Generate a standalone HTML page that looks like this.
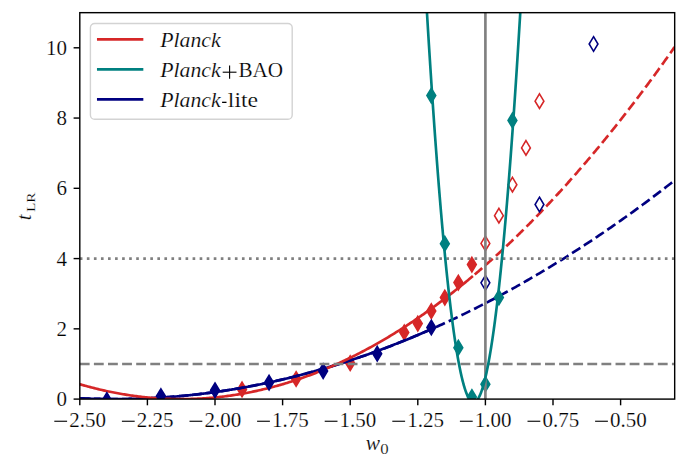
<!DOCTYPE html>
<html><head><meta charset="utf-8"><style>
html,body{margin:0;padding:0;background:#fff;}
svg{display:block;}
text{font-family:"Liberation Serif",serif;fill:#000;stroke:#fff;stroke-width:0.2px;}
.it{font-style:italic;}
.rm{font-style:normal;}
</style></head><body>
<svg width="682" height="460" viewBox="0 0 682 460">
<rect x="0" y="0" width="682" height="460" fill="#ffffff"/>
<defs><clipPath id="ax"><rect x="79.80" y="12.67" width="594.88" height="386.43"/></clipPath></defs>
<g clip-path="url(#ax)">
<path d="M242.04,382.10 L246.44,389.40 L242.04,396.70 L237.64,389.40 Z" fill="#d62728" stroke="#d62728" stroke-width="1.6"/>
<path d="M296.12,371.70 L300.52,379.00 L296.12,386.30 L291.72,379.00 Z" fill="#d62728" stroke="#d62728" stroke-width="1.6"/>
<path d="M350.20,355.90 L354.60,363.20 L350.20,370.50 L345.80,363.20 Z" fill="#d62728" stroke="#d62728" stroke-width="1.6"/>
<path d="M404.28,325.10 L408.68,332.40 L404.28,339.70 L399.88,332.40 Z" fill="#d62728" stroke="#d62728" stroke-width="1.6"/>
<path d="M417.80,316.30 L422.20,323.60 L417.80,330.90 L413.40,323.60 Z" fill="#d62728" stroke="#d62728" stroke-width="1.6"/>
<path d="M431.32,303.80 L435.72,311.10 L431.32,318.40 L426.92,311.10 Z" fill="#d62728" stroke="#d62728" stroke-width="1.6"/>
<path d="M444.84,290.30 L449.24,297.60 L444.84,304.90 L440.44,297.60 Z" fill="#d62728" stroke="#d62728" stroke-width="1.6"/>
<path d="M458.36,275.30 L462.76,282.60 L458.36,289.90 L453.96,282.60 Z" fill="#d62728" stroke="#d62728" stroke-width="1.6"/>
<path d="M471.88,257.30 L476.28,264.60 L471.88,271.90 L467.48,264.60 Z" fill="#d62728" stroke="#d62728" stroke-width="1.6"/>
<path d="M485.40,236.10 L489.80,243.40 L485.40,250.70 L481.00,243.40 Z" fill="none" stroke="#d62728" stroke-width="1.6"/>
<path d="M498.92,208.40 L503.32,215.70 L498.92,223.00 L494.52,215.70 Z" fill="none" stroke="#d62728" stroke-width="1.6"/>
<path d="M512.44,177.40 L516.84,184.70 L512.44,192.00 L508.04,184.70 Z" fill="none" stroke="#d62728" stroke-width="1.6"/>
<path d="M525.96,140.60 L530.36,147.90 L525.96,155.20 L521.56,147.90 Z" fill="none" stroke="#d62728" stroke-width="1.6"/>
<path d="M539.48,93.90 L543.88,101.20 L539.48,108.50 L535.08,101.20 Z" fill="none" stroke="#d62728" stroke-width="1.6"/>
<path d="M79.80,398.25 L81.79,398.35 L83.78,398.43 L85.77,398.52 L87.76,398.59 L89.75,398.67 L91.74,398.73 L93.73,398.79 L95.72,398.85 L97.71,398.90 L99.70,398.94 L101.69,398.98 L103.67,399.02 L105.66,399.04 L107.65,399.07 L109.64,399.08 L111.63,399.09 L113.62,399.10 L115.61,399.10 L117.60,399.09 L119.59,399.08 L121.58,399.07 L123.57,399.04 L125.56,399.02 L127.55,398.98 L129.54,398.95 L131.53,398.90 L133.52,398.85 L135.51,398.80 L137.50,398.74 L139.49,398.67 L141.48,398.60 L143.47,398.52 L145.46,398.44 L147.45,398.35 L149.43,398.26 L151.42,398.16 L153.41,398.05 L155.40,397.94 L157.39,397.83 L159.38,397.71 L161.37,397.58 L163.36,397.45 L165.35,397.31 L167.34,397.17 L169.33,397.02 L171.32,396.86 L173.31,396.70 L175.30,396.54 L177.29,396.37 L179.28,396.19 L181.27,396.01 L183.26,395.82 L185.25,395.63 L187.24,395.43 L189.23,395.22 L191.22,395.01 L193.21,394.80 L195.19,394.58 L197.18,394.35 L199.17,394.12 L201.16,393.88 L203.15,393.64 L205.14,393.39 L207.13,393.14 L209.12,392.88 L211.11,392.61 L213.10,392.34 L215.09,392.07 L217.08,391.79 L219.07,391.50 L221.06,391.21 L223.05,390.91 L225.04,390.61 L227.03,390.30 L229.02,389.98 L231.01,389.66 L233.00,389.34 L234.99,389.01 L236.98,388.67 L238.97,388.33 L240.95,387.98 L242.94,387.63 L244.93,387.27 L246.92,386.90 L248.91,386.53 L250.90,386.16 L252.89,385.78 L254.88,385.39 L256.87,385.00 L258.86,384.60 L260.85,384.20 L262.84,383.79 L264.83,383.38 L266.82,382.96 L268.81,382.53 L270.80,382.10 L272.79,381.67 L274.78,381.22 L276.77,380.78 L278.76,380.32 L280.75,379.87 L282.74,379.40 L284.73,378.93 L286.71,378.46 L288.70,377.98 L290.69,377.49 L292.68,377.00 L294.67,376.50 L296.66,376.00 L298.65,375.49 L300.64,374.98 L302.63,374.46 L304.62,373.94 L306.61,373.41 L308.60,372.87 L310.59,372.33 L312.58,371.79 L314.57,371.23 L316.56,370.68 L318.55,370.11 L320.54,369.54 L322.53,368.97 L324.52,368.39 L326.51,367.81 L328.50,367.22 L330.49,366.62 L332.47,366.02 L334.46,365.41 L336.45,364.80 L338.44,364.18 L340.43,363.56 L342.42,362.93 L344.41,362.29 L346.40,361.65 L348.39,361.01 L350.38,360.35 L352.37,359.70 L354.36,359.03 L356.35,358.37 L358.34,357.69 L360.33,357.01 L362.32,356.33 L364.31,355.64 L366.30,354.94 L368.29,354.24 L370.28,353.54 L372.27,352.82 L374.26,352.11 L376.25,351.38 L378.23,350.66 L380.22,349.92 L382.21,349.18 L384.20,348.44 L386.19,347.69 L388.18,346.93 L390.17,346.17 L392.16,345.40 L394.15,344.63 L396.14,343.85 L398.13,343.06 L400.12,342.28 L402.11,341.48 L404.10,340.68 L406.09,339.87 L408.08,339.06 L410.07,338.25 L412.06,337.42 L414.05,336.59 L416.04,335.76 L418.03,334.92 L420.02,334.08 L422.01,333.23 L423.99,332.37 L425.98,331.51 L427.97,330.64 L429.96,329.77 L431.95,328.89 L433.94,328.01 L435.93,327.12 L437.92,326.23 L439.91,325.33 L441.90,324.42 L443.89,323.51 L445.88,322.60 L447.87,321.67 L449.86,320.75 L451.85,319.81 L453.84,318.87 L455.83,317.93 L457.82,316.98 L459.81,316.03 L461.80,315.07 L463.79,314.10 L465.78,313.13 L467.77,312.15 L469.75,311.17 L471.74,310.18 L473.73,309.19 L475.72,308.19 L477.71,307.18 L479.70,306.17 L481.69,305.16 L483.68,304.13 L485.67,303.11 L487.66,302.08 L489.65,301.04 L491.64,299.99 L493.63,298.95 L495.62,297.89 L497.61,296.83 L499.60,295.77 L501.59,294.69 L503.58,293.62 L505.57,292.54 L507.56,291.45 L509.55,290.36 L511.54,289.26 L513.53,288.15 L515.51,287.04 L517.50,285.93 L519.49,284.81 L521.48,283.68 L523.47,282.55 L525.46,281.41 L527.45,280.27 L529.44,279.12 L531.43,277.97 L533.42,276.81 L535.41,275.64 L537.40,274.47 L539.39,273.30 L541.38,272.12 L543.37,270.93 L545.36,269.74 L547.35,268.54 L549.34,267.33 L551.33,266.13 L553.32,264.91 L555.31,263.69 L557.30,262.46 L559.29,261.23 L561.27,260.00 L563.26,258.76 L565.25,257.51 L567.24,256.25 L569.23,255.00 L571.22,253.73 L573.21,252.46 L575.20,251.19 L577.19,249.91 L579.18,248.62 L581.17,247.33 L583.16,246.03 L585.15,244.73 L587.14,243.42 L589.13,242.10 L591.12,240.78 L593.11,239.46 L595.10,238.13 L597.09,236.79 L599.08,235.45 L601.07,234.10 L603.06,232.75 L605.05,231.39 L607.03,230.03 L609.02,228.66 L611.01,227.29 L613.00,225.91 L614.99,224.52 L616.98,223.13 L618.97,221.73 L620.96,220.33 L622.95,218.92 L624.94,217.51 L626.93,216.09 L628.92,214.67 L630.91,213.24 L632.90,211.80 L634.89,210.36 L636.88,208.91 L638.87,207.46 L640.86,206.00 L642.85,204.54 L644.84,203.07 L646.83,201.60 L648.82,200.12 L650.81,198.63 L652.79,197.14 L654.78,195.65 L656.77,194.15 L658.76,192.64 L660.75,191.13 L662.74,189.61 L664.73,188.08 L666.72,186.55 L668.71,185.02 L670.70,183.48 L672.69,181.93 L674.68,180.38" fill="none" stroke="#000080" stroke-width="2.66" stroke-dasharray="9.842 4.256"/>
<path d="M79.80,398.25 L80.98,398.31 L82.15,398.36 L83.33,398.41 L84.50,398.46 L85.68,398.51 L86.85,398.56 L88.03,398.60 L89.21,398.65 L90.38,398.69 L91.56,398.73 L92.73,398.76 L93.91,398.80 L95.08,398.83 L96.26,398.86 L97.43,398.89 L98.61,398.92 L99.79,398.95 L100.96,398.97 L102.14,398.99 L103.31,399.01 L104.49,399.03 L105.66,399.04 L106.84,399.06 L108.02,399.07 L109.19,399.08 L110.37,399.09 L111.54,399.09 L112.72,399.10 L113.89,399.10 L115.07,399.10 L116.25,399.10 L117.42,399.09 L118.60,399.09 L119.77,399.08 L120.95,399.07 L122.12,399.06 L123.30,399.05 L124.47,399.03 L125.65,399.02 L126.83,399.00 L128.00,398.98 L129.18,398.95 L130.35,398.93 L131.53,398.90 L132.70,398.87 L133.88,398.84 L135.06,398.81 L136.23,398.78 L137.41,398.74 L138.58,398.70 L139.76,398.66 L140.93,398.62 L142.11,398.58 L143.29,398.53 L144.46,398.48 L145.64,398.43 L146.81,398.38 L147.99,398.33 L149.16,398.27 L150.34,398.21 L151.51,398.15 L152.69,398.09 L153.87,398.03 L155.04,397.96 L156.22,397.90 L157.39,397.83 L158.57,397.76 L159.74,397.68 L160.92,397.61 L162.10,397.53 L163.27,397.45 L164.45,397.37 L165.62,397.29 L166.80,397.21 L167.97,397.12 L169.15,397.03 L170.33,396.94 L171.50,396.85 L172.68,396.75 L173.85,396.66 L175.03,396.56 L176.20,396.46 L177.38,396.36 L178.55,396.25 L179.73,396.15 L180.91,396.04 L182.08,395.93 L183.26,395.82 L184.43,395.71 L185.61,395.59 L186.78,395.47 L187.96,395.35 L189.14,395.23 L190.31,395.11 L191.49,394.99 L192.66,394.86 L193.84,394.73 L195.01,394.60 L196.19,394.47 L197.37,394.33 L198.54,394.20 L199.72,394.06 L200.89,393.92 L202.07,393.77 L203.24,393.63 L204.42,393.48 L205.59,393.34 L206.77,393.19 L207.95,393.03 L209.12,392.88 L210.30,392.72 L211.47,392.57 L212.65,392.41 L213.82,392.24 L215.00,392.08 L216.18,391.92 L217.35,391.75 L218.53,391.58 L219.70,391.41 L220.88,391.23 L222.05,391.06 L223.23,390.88 L224.41,390.70 L225.58,390.52 L226.76,390.34 L227.93,390.15 L229.11,389.97 L230.28,389.78 L231.46,389.59 L232.63,389.40 L233.81,389.20 L234.99,389.01 L236.16,388.81 L237.34,388.61 L238.51,388.41 L239.69,388.20 L240.86,388.00 L242.04,387.79 L243.22,387.58 L244.39,387.37 L245.57,387.15 L246.74,386.94 L247.92,386.72 L249.09,386.50 L250.27,386.28 L251.45,386.05 L252.62,385.83 L253.80,385.60 L254.97,385.37 L256.15,385.14 L257.32,384.91 L258.50,384.67 L259.67,384.44 L260.85,384.20 L262.03,383.96 L263.20,383.72 L264.38,383.47 L265.55,383.22 L266.73,382.98 L267.90,382.73 L269.08,382.47 L270.26,382.22 L271.43,381.96 L272.61,381.71 L273.78,381.45 L274.96,381.18 L276.13,380.92 L277.31,380.65 L278.49,380.39 L279.66,380.12 L280.84,379.85 L282.01,379.57 L283.19,379.30 L284.36,379.02 L285.54,378.74 L286.71,378.46 L287.89,378.18 L289.07,377.89 L290.24,377.60 L291.42,377.31 L292.59,377.02 L293.77,376.73 L294.94,376.44 L296.12,376.14 L297.30,375.84 L298.47,375.54 L299.65,375.24 L300.82,374.93 L302.00,374.63 L303.17,374.32 L304.35,374.01 L305.53,373.70 L306.70,373.38 L307.88,373.07 L309.05,372.75 L310.23,372.43 L311.40,372.11 L312.58,371.79 L313.75,371.46 L314.93,371.13 L316.11,370.80 L317.28,370.47 L318.46,370.14 L319.63,369.80 L320.81,369.47 L321.98,369.13 L323.16,368.79 L324.34,368.44 L325.51,368.10 L326.69,367.75 L327.86,367.40 L329.04,367.05 L330.21,366.70 L331.39,366.35 L332.57,365.99 L333.74,365.63 L334.92,365.27 L336.09,364.91 L337.27,364.55 L338.44,364.18 L339.62,363.81 L340.79,363.44 L341.97,363.07 L343.15,362.70 L344.32,362.32 L345.50,361.94 L346.67,361.56 L347.85,361.18 L349.02,360.80 L350.20,360.41 L351.38,360.03 L352.55,359.64 L353.73,359.25 L354.90,358.85 L356.08,358.46 L357.25,358.06 L358.43,357.66 L359.61,357.26 L360.78,356.86 L361.96,356.45 L363.13,356.05 L364.31,355.64 L365.48,355.23 L366.66,354.82 L367.83,354.40 L369.01,353.99 L370.19,353.57 L371.36,353.15 L372.54,352.73 L373.71,352.30 L374.89,351.88 L376.06,351.45 L377.24,351.02 L378.42,350.59 L379.59,350.16 L380.77,349.72 L381.94,349.28 L383.12,348.84 L384.29,348.40 L385.47,347.96 L386.65,347.51 L387.82,347.07 L389.00,346.62 L390.17,346.17 L391.35,345.71 L392.52,345.26 L393.70,344.80 L394.87,344.34 L396.05,343.88 L397.23,343.42 L398.40,342.96 L399.58,342.49 L400.75,342.02 L401.93,341.55 L403.10,341.08 L404.28,340.61 L405.46,340.13 L406.63,339.65 L407.81,339.17 L408.98,338.69 L410.16,338.21 L411.33,337.72 L412.51,337.24 L413.69,336.75 L414.86,336.25 L416.04,335.76 L417.21,335.27 L418.39,334.77 L419.56,334.27 L420.74,333.77 L421.91,333.27 L423.09,332.76 L424.27,332.25 L425.44,331.75 L426.62,331.24 L427.79,330.72 L428.97,330.21 L430.14,329.69 L431.32,329.17" fill="none" stroke="#000080" stroke-width="2.66" stroke-linecap="square"/>
<path d="M79.80,384.23 L81.11,384.61 L82.42,384.99 L83.73,385.36 L85.05,385.73 L86.36,386.09 L87.67,386.45 L88.98,386.80 L90.29,387.15 L91.60,387.49 L92.91,387.83 L94.22,388.16 L95.54,388.49 L96.85,388.81 L98.16,389.13 L99.47,389.44 L100.78,389.75 L102.09,390.05 L103.40,390.35 L104.71,390.64 L106.03,390.93 L107.34,391.21 L108.65,391.49 L109.96,391.76 L111.27,392.03 L112.58,392.29 L113.89,392.55 L115.21,392.80 L116.52,393.05 L117.83,393.29 L119.14,393.53 L120.45,393.76 L121.76,393.99 L123.07,394.21 L124.38,394.43 L125.70,394.64 L127.01,394.85 L128.32,395.06 L129.63,395.25 L130.94,395.45 L132.25,395.64 L133.56,395.82 L134.87,396.00 L136.19,396.17 L137.50,396.34 L138.81,396.50 L140.12,396.66 L141.43,396.81 L142.74,396.96 L144.05,397.10 L145.37,397.24 L146.68,397.38 L147.99,397.50 L149.30,397.63 L150.61,397.75 L151.92,397.86 L153.23,397.97 L154.54,398.07 L155.86,398.17 L157.17,398.26 L158.48,398.35 L159.79,398.44 L161.10,398.52 L162.41,398.59 L163.72,398.66 L165.03,398.72 L166.35,398.78 L167.66,398.83 L168.97,398.88 L170.28,398.93 L171.59,398.97 L172.90,399.00 L174.21,399.03 L175.53,399.05 L176.84,399.07 L178.15,399.09 L179.46,399.10 L180.77,399.10 L182.08,399.10 L183.39,399.09 L184.70,399.08 L186.02,399.07 L187.33,399.05 L188.64,399.02 L189.95,398.99 L191.26,398.95 L192.57,398.91 L193.88,398.87 L195.19,398.82 L196.51,398.76 L197.82,398.70 L199.13,398.64 L200.44,398.56 L201.75,398.49 L203.06,398.41 L204.37,398.32 L205.69,398.23 L207.00,398.14 L208.31,398.04 L209.62,397.93 L210.93,397.82 L212.24,397.71 L213.55,397.59 L214.86,397.46 L216.18,397.33 L217.49,397.20 L218.80,397.06 L220.11,396.91 L221.42,396.76 L222.73,396.61 L224.04,396.45 L225.35,396.28 L226.67,396.11 L227.98,395.94 L229.29,395.76 L230.60,395.57 L231.91,395.38 L233.22,395.19 L234.53,394.99 L235.85,394.78 L237.16,394.57 L238.47,394.36 L239.78,394.14 L241.09,393.91 L242.40,393.68 L243.71,393.45 L245.02,393.21 L246.34,392.96 L247.65,392.71 L248.96,392.46 L250.27,392.20 L251.58,391.94 L252.89,391.67 L254.20,391.39 L255.51,391.11 L256.83,390.83 L258.14,390.54 L259.45,390.25 L260.76,389.95 L262.07,389.64 L263.38,389.33 L264.69,389.02 L266.01,388.70 L267.32,388.37 L268.63,388.05 L269.94,387.71 L271.25,387.37 L272.56,387.03 L273.87,386.68 L275.18,386.33 L276.50,385.97 L277.81,385.60 L279.12,385.23 L280.43,384.86 L281.74,384.48 L283.05,384.10 L284.36,383.71 L285.67,383.31 L286.99,382.92 L288.30,382.51 L289.61,382.10 L290.92,381.69 L292.23,381.27 L293.54,380.85 L294.85,380.42 L296.17,379.99 L297.48,379.55 L298.79,379.10 L300.10,378.65 L301.41,378.20 L302.72,377.74 L304.03,377.28 L305.34,376.81 L306.66,376.34 L307.97,375.86 L309.28,375.38 L310.59,374.89 L311.90,374.39 L313.21,373.90 L314.52,373.39 L315.83,372.89 L317.15,372.37 L318.46,371.85 L319.77,371.33 L321.08,370.80 L322.39,370.27 L323.70,369.73 L325.01,369.19 L326.33,368.64 L327.64,368.09 L328.95,367.53 L330.26,366.97 L331.57,366.40 L332.88,365.83 L334.19,365.25 L335.50,364.67 L336.82,364.08 L338.13,363.49 L339.44,362.89 L340.75,362.29 L342.06,361.68 L343.37,361.06 L344.68,360.45 L345.99,359.82 L347.31,359.20 L348.62,358.56 L349.93,357.93 L351.24,357.28 L352.55,356.64 L353.86,355.99 L355.17,355.33 L356.49,354.67 L357.80,354.00 L359.11,353.33 L360.42,352.65 L361.73,351.97 L363.04,351.28 L364.35,350.59 L365.66,349.89 L366.98,349.19 L368.29,348.48 L369.60,347.77 L370.91,347.05 L372.22,346.33 L373.53,345.60 L374.84,344.87 L376.15,344.13 L377.47,343.39 L378.78,342.64 L380.09,341.89 L381.40,341.14 L382.71,340.37 L384.02,339.61 L385.33,338.84 L386.65,338.06 L387.96,337.28 L389.27,336.49 L390.58,335.70 L391.89,334.90 L393.20,334.10 L394.51,333.29 L395.82,332.48 L397.14,331.67 L398.45,330.84 L399.76,330.02 L401.07,329.19 L402.38,328.35 L403.69,327.51 L405.00,326.66 L406.31,325.81 L407.63,324.95 L408.94,324.09 L410.25,323.23 L411.56,322.36 L412.87,321.48 L414.18,320.60 L415.49,319.71 L416.81,318.82 L418.12,317.93 L419.43,317.02 L420.74,316.12 L422.05,315.21 L423.36,314.29 L424.67,313.37 L425.98,312.44 L427.30,311.51 L428.61,310.58 L429.92,309.64 L431.23,308.69 L432.54,307.74 L433.85,306.78 L435.16,305.82 L436.47,304.86 L437.79,303.89 L439.10,302.91 L440.41,301.93 L441.72,300.94 L443.03,299.95 L444.34,298.96 L445.65,297.96 L446.97,296.95 L448.28,295.94 L449.59,294.93 L450.90,293.91 L452.21,292.88 L453.52,291.85 L454.83,290.81 L456.14,289.77 L457.46,288.73 L458.77,287.68 L460.08,286.62 L461.39,285.56 L462.70,284.50 L464.01,283.43 L465.32,282.35 L466.63,281.27 L467.95,280.19 L469.26,279.10 L470.57,278.00 L471.88,276.90" fill="none" stroke="#d62728" stroke-width="2.66" stroke-linecap="square"/>
<path d="M471.88,276.90 L472.56,276.33 L473.24,275.76 L473.91,275.19 L474.59,274.61 L475.27,274.03 L475.95,273.46 L476.63,272.88 L477.31,272.30 L477.98,271.72 L478.66,271.13 L479.34,270.55 L480.02,269.96 L480.70,269.38 L481.38,268.79 L482.05,268.20 L482.73,267.61 L483.41,267.02 L484.09,266.42 L484.77,265.83 L485.45,265.23 L486.12,264.63 L486.80,264.03 L487.48,263.43 L488.16,262.83 L488.84,262.23 L489.51,261.63 L490.19,261.02 L490.87,260.41 L491.55,259.81 L492.23,259.20 L492.91,258.59 L493.58,257.97 L494.26,257.36 L494.94,256.74 L495.62,256.13 L496.30,255.51 L496.98,254.89 L497.65,254.27 L498.33,253.65 L499.01,253.03 L499.69,252.40 L500.37,251.78 L501.05,251.15 L501.72,250.52 L502.40,249.89 L503.08,249.26 L503.76,248.63 L504.44,248.00 L505.11,247.36 L505.79,246.73 L506.47,246.09 L507.15,245.45 L507.83,244.81 L508.51,244.17 L509.18,243.53 L509.86,242.88 L510.54,242.24 L511.22,241.59 L511.90,240.94 L512.58,240.29 L513.25,239.64 L513.93,238.99 L514.61,238.34 L515.29,237.68 L515.97,237.02 L516.65,236.37 L517.32,235.71 L518.00,235.05 L518.68,234.39 L519.36,233.72 L520.04,233.06 L520.71,232.39 L521.39,231.73 L522.07,231.06 L522.75,230.39 L523.43,229.72 L524.11,229.05 L524.78,228.37 L525.46,227.70 L526.14,227.02 L526.82,226.35 L527.50,225.67 L528.18,224.99 L528.85,224.31 L529.53,223.62 L530.21,222.94 L530.89,222.25 L531.57,221.57 L532.25,220.88 L532.92,220.19 L533.60,219.50 L534.28,218.81 L534.96,218.11 L535.64,217.42 L536.31,216.72 L536.99,216.03 L537.67,215.33 L538.35,214.63 L539.03,213.93 L539.71,213.22 L540.38,212.52 L541.06,211.81 L541.74,211.11 L542.42,210.40 L543.10,209.69 L543.78,208.98 L544.45,208.27 L545.13,207.55 L545.81,206.84 L546.49,206.12 L547.17,205.41 L547.85,204.69 L548.52,203.97 L549.20,203.25 L549.88,202.52 L550.56,201.80 L551.24,201.07 L551.91,200.35 L552.59,199.62 L553.27,198.89 L553.95,198.16 L554.63,197.43 L555.31,196.70 L555.98,195.96 L556.66,195.22 L557.34,194.49 L558.02,193.75 L558.70,193.01 L559.38,192.27 L560.05,191.53 L560.73,190.78 L561.41,190.04 L562.09,189.29 L562.77,188.54 L563.45,187.79 L564.12,187.04 L564.80,186.29 L565.48,185.54 L566.16,184.78 L566.84,184.03 L567.51,183.27 L568.19,182.51 L568.87,181.75 L569.55,180.99 L570.23,180.23 L570.91,179.46 L571.58,178.70 L572.26,177.93 L572.94,177.16 L573.62,176.39 L574.30,175.62 L574.98,174.85 L575.65,174.08 L576.33,173.30 L577.01,172.53 L577.69,171.75 L578.37,170.97 L579.05,170.19 L579.72,169.41 L580.40,168.63 L581.08,167.85 L581.76,167.06 L582.44,166.27 L583.11,165.49 L583.79,164.70 L584.47,163.91 L585.15,163.11 L585.83,162.32 L586.51,161.53 L587.18,160.73 L587.86,159.93 L588.54,159.14 L589.22,158.34 L589.90,157.53 L590.58,156.73 L591.25,155.93 L591.93,155.12 L592.61,154.32 L593.29,153.51 L593.97,152.70 L594.65,151.89 L595.32,151.08 L596.00,150.26 L596.68,149.45 L597.36,148.63 L598.04,147.82 L598.71,147.00 L599.39,146.18 L600.07,145.36 L600.75,144.54 L601.43,143.71 L602.11,142.89 L602.78,142.06 L603.46,141.23 L604.14,140.40 L604.82,139.57 L605.50,138.74 L606.18,137.91 L606.85,137.07 L607.53,136.24 L608.21,135.40 L608.89,134.56 L609.57,133.72 L610.25,132.88 L610.92,132.04 L611.60,131.20 L612.28,130.35 L612.96,129.50 L613.64,128.66 L614.31,127.81 L614.99,126.96 L615.67,126.11 L616.35,125.25 L617.03,124.40 L617.71,123.54 L618.38,122.69 L619.06,121.83 L619.74,120.97 L620.42,120.11 L621.10,119.24 L621.78,118.38 L622.45,117.52 L623.13,116.65 L623.81,115.78 L624.49,114.91 L625.17,114.04 L625.85,113.17 L626.52,112.30 L627.20,111.42 L627.88,110.55 L628.56,109.67 L629.24,108.79 L629.91,107.91 L630.59,107.03 L631.27,106.15 L631.95,105.27 L632.63,104.38 L633.31,103.49 L633.98,102.61 L634.66,101.72 L635.34,100.83 L636.02,99.94 L636.70,99.04 L637.38,98.15 L638.05,97.25 L638.73,96.36 L639.41,95.46 L640.09,94.56 L640.77,93.66 L641.45,92.76 L642.12,91.85 L642.80,90.95 L643.48,90.04 L644.16,89.13 L644.84,88.22 L645.51,87.31 L646.19,86.40 L646.87,85.49 L647.55,84.58 L648.23,83.66 L648.91,82.74 L649.58,81.82 L650.26,80.91 L650.94,79.98 L651.62,79.06 L652.30,78.14 L652.98,77.21 L653.65,76.29 L654.33,75.36 L655.01,74.43 L655.69,73.50 L656.37,72.57 L657.05,71.64 L657.72,70.70 L658.40,69.77 L659.08,68.83 L659.76,67.89 L660.44,66.95 L661.11,66.01 L661.79,65.07 L662.47,64.13 L663.15,63.18 L663.83,62.23 L664.51,61.29 L665.18,60.34 L665.86,59.39 L666.54,58.44 L667.22,57.48 L667.90,56.53 L668.58,55.57 L669.25,54.62 L669.93,53.66 L670.61,52.70 L671.29,51.74 L671.97,50.78 L672.65,49.81 L673.32,48.85 L674.00,47.88 L674.68,46.92" fill="none" stroke="#d62728" stroke-width="2.66" stroke-dasharray="9.842 4.256" stroke-dashoffset="10.36"/>
<path d="M106.84,392.70 L111.24,400.00 L106.84,407.30 L102.44,400.00 Z" fill="#000080" stroke="#000080" stroke-width="1.6"/>
<path d="M160.92,388.80 L165.32,396.10 L160.92,403.40 L156.52,396.10 Z" fill="#000080" stroke="#000080" stroke-width="1.6"/>
<path d="M215.00,383.00 L219.40,390.30 L215.00,397.60 L210.60,390.30 Z" fill="#000080" stroke="#000080" stroke-width="1.6"/>
<path d="M269.08,375.30 L273.48,382.60 L269.08,389.90 L264.68,382.60 Z" fill="#000080" stroke="#000080" stroke-width="1.6"/>
<path d="M323.16,363.80 L327.56,371.10 L323.16,378.40 L318.76,371.10 Z" fill="#000080" stroke="#000080" stroke-width="1.6"/>
<path d="M377.24,346.40 L381.64,353.70 L377.24,361.00 L372.84,353.70 Z" fill="#000080" stroke="#000080" stroke-width="1.6"/>
<path d="M431.32,320.20 L435.72,327.50 L431.32,334.80 L426.92,327.50 Z" fill="#000080" stroke="#000080" stroke-width="1.6"/>
<path d="M485.40,275.50 L489.80,282.80 L485.40,290.10 L481.00,282.80 Z" fill="none" stroke="#000080" stroke-width="1.6"/>
<path d="M539.48,197.20 L543.88,204.50 L539.48,211.80 L535.08,204.50 Z" fill="none" stroke="#000080" stroke-width="1.6"/>
<path d="M593.56,36.70 L597.96,44.00 L593.56,51.30 L589.16,44.00 Z" fill="none" stroke="#000080" stroke-width="1.6"/>
<path d="M431.32,88.30 L435.72,95.60 L431.32,102.90 L426.92,95.60 Z" fill="#008080" stroke="#008080" stroke-width="1.6"/>
<path d="M444.84,236.40 L449.24,243.70 L444.84,251.00 L440.44,243.70 Z" fill="#008080" stroke="#008080" stroke-width="1.6"/>
<path d="M458.36,340.40 L462.76,347.70 L458.36,355.00 L453.96,347.70 Z" fill="#008080" stroke="#008080" stroke-width="1.6"/>
<path d="M471.88,389.70 L476.28,397.00 L471.88,404.30 L467.48,397.00 Z" fill="#008080" stroke="#008080" stroke-width="1.6"/>
<path d="M485.40,376.90 L489.80,384.20 L485.40,391.50 L481.00,384.20 Z" fill="#008080" stroke="#008080" stroke-width="1.6"/>
<path d="M498.92,290.10 L503.32,297.40 L498.92,304.70 L494.52,297.40 Z" fill="#008080" stroke="#008080" stroke-width="1.6"/>
<path d="M512.44,113.10 L516.84,120.40 L512.44,127.70 L508.04,120.40 Z" fill="#008080" stroke="#008080" stroke-width="1.6"/>
<line x1="79.8" y1="363.97" x2="674.68" y2="363.97" stroke="#808080" stroke-width="2.66" stroke-dasharray="9.842 4.256"/>
<line x1="79.8" y1="258.58" x2="674.68" y2="258.58" stroke="#808080" stroke-width="2.66" stroke-dasharray="2.660 4.389"/>
<line x1="485.40" y1="12.67" x2="485.40" y2="399.1" stroke="#808080" stroke-width="2.66"/>
<path d="M423.21,-52.59 L423.46,-48.07 L423.71,-43.58 L423.96,-39.11 L424.21,-34.66 L424.46,-30.23 L424.71,-25.83 L424.96,-21.45 L425.21,-17.09 L425.46,-12.75 L425.72,-8.44 L425.97,-4.15 L426.22,0.12 L426.47,4.36 L426.72,8.59 L426.97,12.79 L427.22,16.96 L427.47,21.12 L427.72,25.25 L427.97,29.36 L428.22,33.45 L428.47,37.52 L428.72,41.56 L428.98,45.58 L429.23,49.58 L429.48,53.55 L429.73,57.51 L429.98,61.44 L430.23,65.34 L430.48,69.23 L430.73,73.09 L430.98,76.93 L431.23,80.75 L431.48,84.54 L431.73,88.32 L431.98,92.07 L432.23,95.79 L432.49,99.50 L432.74,103.18 L432.99,106.84 L433.24,110.48 L433.49,114.09 L433.74,117.69 L433.99,121.26 L434.24,124.80 L434.49,128.33 L434.74,131.83 L434.99,135.31 L435.24,138.77 L435.49,142.20 L435.75,145.61 L436.00,149.00 L436.25,152.37 L436.50,155.72 L436.75,159.04 L437.00,162.34 L437.25,165.61 L437.50,168.87 L437.75,172.10 L438.00,175.31 L438.25,178.50 L438.50,181.66 L438.75,184.80 L439.01,187.92 L439.26,191.02 L439.51,194.09 L439.76,197.15 L440.01,200.18 L440.26,203.18 L440.51,206.17 L440.76,209.13 L441.01,212.07 L441.26,214.98 L441.51,217.88 L441.76,220.75 L442.01,223.60 L442.26,226.43 L442.52,229.23 L442.77,232.01 L443.02,234.77 L443.27,237.51 L443.52,240.22 L443.77,242.91 L444.02,245.58 L444.27,248.23 L444.52,250.85 L444.77,253.45 L445.02,256.03 L445.27,258.59 L445.52,261.12 L445.78,263.63 L446.03,266.12 L446.28,268.59 L446.53,271.03 L446.78,273.46 L447.03,275.85 L447.28,278.23 L447.53,280.58 L447.78,282.91 L448.03,285.22 L448.28,287.51 L448.53,289.77 L448.78,292.01 L449.03,294.23 L449.29,296.43 L449.54,298.60 L449.79,300.75 L450.04,302.88 L450.29,304.99 L450.54,307.07 L450.79,309.13 L451.04,311.17 L451.29,313.19 L451.54,315.18 L451.79,317.15 L452.04,319.10 L452.29,321.03 L452.55,322.93 L452.80,324.81 L453.05,326.67 L453.30,328.50 L453.55,330.32 L453.80,332.11 L454.05,333.88 L454.30,335.62 L454.55,337.34 L454.80,339.04 L455.05,340.72 L455.30,342.38 L455.55,344.01 L455.81,345.62 L456.06,347.21 L456.31,348.77 L456.56,350.32 L456.81,351.84 L457.06,353.34 L457.31,354.81 L457.56,356.26 L457.81,357.69 L458.06,359.10 L458.31,360.49 L458.56,361.85 L458.81,363.19 L459.06,364.51 L459.32,365.80 L459.57,367.08 L459.82,368.33 L460.07,369.55 L460.32,370.76 L460.57,371.94 L460.82,373.10 L461.07,374.24 L461.32,375.35 L461.57,376.45 L461.82,377.52 L462.07,378.56 L462.32,379.59 L462.58,380.59 L462.83,381.57 L463.08,382.53 L463.33,383.46 L463.58,384.38 L463.83,385.27 L464.08,386.13 L464.33,386.98 L464.58,387.80 L464.83,388.60 L465.08,389.38 L465.33,390.13 L465.58,390.86 L465.83,391.57 L466.09,392.26 L466.34,392.93 L466.59,393.57 L466.84,394.19 L467.09,394.78 L467.34,395.36 L467.59,395.91 L467.84,396.44 L468.09,396.95 L468.34,397.43 L468.59,397.89 L468.84,398.33 L469.09,398.75 L469.35,399.14 L469.60,399.52 L469.85,399.87 L470.10,400.19 L470.35,400.50 L470.60,400.78 L470.85,401.04 L471.10,401.27 L471.35,401.49 L471.60,401.68 L471.85,401.85 L472.10,402.00 L472.35,402.12 L472.61,402.22 L472.86,402.30 L473.11,402.36 L473.36,402.39 L473.61,402.40 L473.86,402.39 L474.11,402.36 L474.36,402.30 L474.61,402.22 L474.86,402.12 L475.11,402.00 L475.36,401.85 L475.61,401.68 L475.86,401.49 L476.12,401.28 L476.37,401.04 L476.62,400.78 L476.87,400.50 L477.12,400.20 L477.37,399.87 L477.62,399.52 L477.87,399.15 L478.12,398.76 L478.37,398.34 L478.62,397.90 L478.87,397.44 L479.12,396.96 L479.38,396.45 L479.63,395.92 L479.88,395.37 L480.13,394.80 L480.38,394.20 L480.63,393.58 L480.88,392.94 L481.13,392.27 L481.38,391.59 L481.63,390.88 L481.88,390.15 L482.13,389.39 L482.38,388.62 L482.64,387.82 L482.89,386.99 L483.14,386.15 L483.39,385.28 L483.64,384.39 L483.89,383.48 L484.14,382.55 L484.39,381.59 L484.64,380.61 L484.89,379.61 L485.14,378.58 L485.39,377.54 L485.64,376.47 L485.89,375.38 L486.15,374.26 L486.40,373.12 L486.65,371.96 L486.90,370.78 L487.15,369.58 L487.40,368.35 L487.65,367.10 L487.90,365.83 L488.15,364.53 L488.40,363.22 L488.65,361.88 L488.90,360.51 L489.15,359.13 L489.41,357.72 L489.66,356.29 L489.91,354.84 L490.16,353.37 L490.41,351.87 L490.66,350.35 L490.91,348.81 L491.16,347.24 L491.41,345.65 L491.66,344.04 L491.91,342.41 L492.16,340.75 L492.41,339.08 L492.66,337.38 L492.92,335.65 L493.17,333.91 L493.42,332.14 L493.67,330.35 L493.92,328.54 L494.17,326.70 L494.42,324.85 L494.67,322.97 L494.92,321.06 L495.17,319.14 L495.42,317.19 L495.67,315.22 L495.92,313.23 L496.18,311.21 L496.43,309.17 L496.68,307.11 L496.93,305.03 L497.18,302.92 L497.43,300.80 L497.68,298.64 L497.93,296.47 L498.18,294.28 L498.43,292.06 L498.68,289.82 L498.93,287.55 L499.18,285.27 L499.44,282.96 L499.69,280.63 L499.94,278.28 L500.19,275.90 L500.44,273.50 L500.69,271.08 L500.94,268.64 L501.19,266.17 L501.44,263.68 L501.69,261.17 L501.94,258.64 L502.19,256.08 L502.44,253.50 L502.69,250.90 L502.95,248.28 L503.20,245.63 L503.45,242.97 L503.70,240.27 L503.95,237.56 L504.20,234.82 L504.45,232.07 L504.70,229.28 L504.95,226.48 L505.20,223.66 L505.45,220.81 L505.70,217.94 L505.95,215.04 L506.21,212.12 L506.46,209.19 L506.71,206.22 L506.96,203.24 L507.21,200.23 L507.46,197.21 L507.71,194.15 L507.96,191.08 L508.21,187.98 L508.46,184.86 L508.71,181.72 L508.96,178.56 L509.21,175.37 L509.46,172.16 L509.72,168.93 L509.97,165.68 L510.22,162.40 L510.47,159.10 L510.72,155.78 L510.97,152.44 L511.22,149.07 L511.47,145.68 L511.72,142.27 L511.97,138.83 L512.22,135.38 L512.47,131.90 L512.72,128.40 L512.98,124.87 L513.23,121.32 L513.48,117.76 L513.73,114.16 L513.98,110.55 L514.23,106.91 L514.48,103.25 L514.73,99.57 L514.98,95.87 L515.23,92.14 L515.48,88.39 L515.73,84.62 L515.98,80.82 L516.24,77.01 L516.49,73.17 L516.74,69.30 L516.99,65.42 L517.24,61.51 L517.49,57.58 L517.74,53.63 L517.99,49.65 L518.24,45.66 L518.49,41.64 L518.74,37.60 L518.99,33.53 L519.24,29.44 L519.49,25.33 L519.75,21.20 L520.00,17.05 L520.25,12.87 L520.50,8.67 L520.75,4.45 L521.00,0.20 L521.25,-4.07 L521.50,-8.36 L521.75,-12.67 L522.00,-17.01 L522.25,-21.36 L522.50,-25.74 L522.75,-30.15 L523.01,-34.57 L523.26,-39.02" fill="none" stroke="#008080" stroke-width="2.66"/>
</g>
<rect x="79.80" y="12.67" width="594.88" height="386.43" fill="none" stroke="#000" stroke-width="1.42"/>
<line x1="79.80" y1="399.1" x2="79.80" y2="405.30" stroke="#000" stroke-width="1.42"/>
<rect x="54.30" y="420.7" width="12.8" height="1.1" fill="#000"/>
<text x="69.20" y="427.1" class="rm" font-size="21.0">2.50</text>
<line x1="147.40" y1="399.1" x2="147.40" y2="405.30" stroke="#000" stroke-width="1.42"/>
<rect x="121.90" y="420.7" width="12.8" height="1.1" fill="#000"/>
<text x="136.80" y="427.1" class="rm" font-size="21.0">2.25</text>
<line x1="215.00" y1="399.1" x2="215.00" y2="405.30" stroke="#000" stroke-width="1.42"/>
<rect x="189.50" y="420.7" width="12.8" height="1.1" fill="#000"/>
<text x="204.40" y="427.1" class="rm" font-size="21.0">2.00</text>
<line x1="282.60" y1="399.1" x2="282.60" y2="405.30" stroke="#000" stroke-width="1.42"/>
<rect x="257.10" y="420.7" width="12.8" height="1.1" fill="#000"/>
<text x="272.00" y="427.1" class="rm" font-size="21.0">1.75</text>
<line x1="350.20" y1="399.1" x2="350.20" y2="405.30" stroke="#000" stroke-width="1.42"/>
<rect x="324.70" y="420.7" width="12.8" height="1.1" fill="#000"/>
<text x="339.60" y="427.1" class="rm" font-size="21.0">1.50</text>
<line x1="417.80" y1="399.1" x2="417.80" y2="405.30" stroke="#000" stroke-width="1.42"/>
<rect x="392.30" y="420.7" width="12.8" height="1.1" fill="#000"/>
<text x="407.20" y="427.1" class="rm" font-size="21.0">1.25</text>
<line x1="485.40" y1="399.1" x2="485.40" y2="405.30" stroke="#000" stroke-width="1.42"/>
<rect x="459.90" y="420.7" width="12.8" height="1.1" fill="#000"/>
<text x="474.80" y="427.1" class="rm" font-size="21.0">1.00</text>
<line x1="553.00" y1="399.1" x2="553.00" y2="405.30" stroke="#000" stroke-width="1.42"/>
<rect x="527.50" y="420.7" width="12.8" height="1.1" fill="#000"/>
<text x="542.40" y="427.1" class="rm" font-size="21.0">0.75</text>
<line x1="620.60" y1="399.1" x2="620.60" y2="405.30" stroke="#000" stroke-width="1.42"/>
<rect x="595.10" y="420.7" width="12.8" height="1.1" fill="#000"/>
<text x="610.00" y="427.1" class="rm" font-size="21.0">0.50</text>
<line x1="73.60" y1="399.10" x2="79.8" y2="399.10" stroke="#000" stroke-width="1.42"/>
<text x="67.0" y="406.10" text-anchor="end" class="rm" font-size="21.0">0</text>
<line x1="73.60" y1="328.84" x2="79.8" y2="328.84" stroke="#000" stroke-width="1.42"/>
<text x="67.0" y="335.84" text-anchor="end" class="rm" font-size="21.0">2</text>
<line x1="73.60" y1="258.58" x2="79.8" y2="258.58" stroke="#000" stroke-width="1.42"/>
<text x="67.0" y="265.58" text-anchor="end" class="rm" font-size="21.0">4</text>
<line x1="73.60" y1="188.32" x2="79.8" y2="188.32" stroke="#000" stroke-width="1.42"/>
<text x="67.0" y="195.32" text-anchor="end" class="rm" font-size="21.0">6</text>
<line x1="73.60" y1="118.06" x2="79.8" y2="118.06" stroke="#000" stroke-width="1.42"/>
<text x="67.0" y="125.06" text-anchor="end" class="rm" font-size="21.0">8</text>
<line x1="73.60" y1="47.80" x2="79.8" y2="47.80" stroke="#000" stroke-width="1.42"/>
<text x="67.0" y="54.80" text-anchor="end" class="rm" font-size="21.0">10</text>
<text transform="translate(365.78,450.00) scale(1.0154,1)" class="it" font-size="21.0">w</text>
<text transform="translate(380.18,454.20) scale(1.1167,1)" class="rm" font-size="15">0</text>
<g transform="translate(30.5,220.3) rotate(-90)"><text x="0" y="0" class="it" font-size="21.0">t</text><text transform="translate(8.2,4.4) scale(1.2,1)" class="rm" font-size="12.8">LR</text></g>
<rect x="90.4" y="23.5" width="201.8" height="95.7" rx="4.3" ry="4.3" fill="#ffffff" fill-opacity="0.8" stroke="#d3d3d3" stroke-width="1.4"/>
<line x1="98.3" y1="39.30" x2="142.0" y2="39.30" stroke="#d62728" stroke-width="2.66" stroke-linecap="square"/>
<text transform="translate(160.30,46.80) scale(1.0345,1)" class="it" font-size="21.0">Planck</text>
<line x1="98.3" y1="69.30" x2="142.0" y2="69.30" stroke="#008080" stroke-width="2.66" stroke-linecap="square"/>
<text transform="translate(160.30,76.80) scale(1.0345,1)" class="it" font-size="21.0">Planck</text>
<line x1="98.3" y1="99.30" x2="142.0" y2="99.30" stroke="#000080" stroke-width="2.66" stroke-linecap="square"/>
<text transform="translate(160.30,106.80) scale(1.0345,1)" class="it" font-size="21.0">Planck</text>
<line x1="222.7" y1="72.2" x2="236.5" y2="72.2" stroke="#000" stroke-width="1.1"/>
<line x1="229.6" y1="65.6" x2="229.6" y2="78.8" stroke="#000" stroke-width="1.1"/>
<text transform="translate(238.39,76.80) scale(1.0070,1)" class="rm" font-size="21.0">BAO</text>
<rect x="222.1" y="101.7" width="4.4" height="1.3" fill="#000"/>
<text transform="translate(227.87,106.80) scale(1.1280,1)" class="rm" font-size="21.0">lite</text>
</svg></body></html>
